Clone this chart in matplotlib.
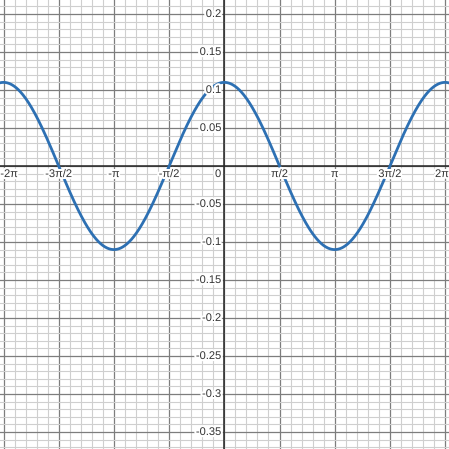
import numpy as np
import matplotlib.pyplot as plt
import matplotlib.patheffects as pe
from matplotlib.ticker import MultipleLocator

plt.rcParams["font.family"] = ["Liberation Sans", "DejaVu Sans"]

# Curve: y = a*cos(x)
amplitude = 0.11
x_ticks = [-2, -1.5, -1, -0.5, 0, 0.5, 1, 1.5, 2]  # multiples of pi
x_labels = ["-2π", "-3π/2", "-π", "-π/2", "0", "π/2", "π", "3π/2", "2π"]
y_ticks = [0.2, 0.15, 0.1, 0.05, -0.05, -0.1, -0.15, -0.2, -0.25, -0.3, -0.35]
y_labels = ["0.2", "0.15", "0.1", "0.05", "-0.05", "-0.1", "-0.15",
            "-0.2", "-0.25", "-0.3", "-0.35"]

xmin, xmax = -6.383, 6.394
ymin, ymax = -0.3724, 0.2184

fig = plt.figure(figsize=(4.49, 4.49), dpi=100)
ax = fig.add_axes([0, 0, 1, 1])
ax.set_xlim(xmin, xmax)
ax.set_ylim(ymin, ymax)

# grid
ax.xaxis.set_major_locator(MultipleLocator(np.pi / 2))
ax.xaxis.set_minor_locator(MultipleLocator(np.pi / 10))
ax.yaxis.set_major_locator(MultipleLocator(0.05))
ax.yaxis.set_minor_locator(MultipleLocator(0.01))
ax.grid(which="minor", color="#cfcfcf", linewidth=0.8)
ax.grid(which="major", color="#7d7d7d", linewidth=0.9)
ax.tick_params(which="both", length=0, labelbottom=False, labelleft=False)
for s in ax.spines.values():
    s.set_visible(False)
ax.set_axisbelow(True)

ax.axhline(0, color="#262626", linewidth=1.1, zorder=2)
ax.axvline(0, color="#262626", linewidth=1.1, zorder=2)

# curve
x = np.linspace(xmin, xmax, 800)
ax.plot(x, amplitude * np.cos(x), color="#2d70b3", linewidth=2.0, zorder=3)

halo = [pe.withStroke(linewidth=3, foreground="white")]
fs = 8

for t, lab in zip(x_ticks, x_labels):
    xv = t * np.pi
    if lab == "0":
        ax.text(-0.09, -0.004, lab, ha="right", va="top", fontsize=fs,
                color="#333333", path_effects=halo, zorder=4)
        continue
    xv = min(max(xv, xmin + 0.26), xmax - 0.2)
    ax.text(xv, -0.004, lab, ha="center", va="top", fontsize=fs,
            color="#333333", path_effects=halo, zorder=4)

for v, lab in zip(y_ticks, y_labels):
    ax.text(-0.09, v, lab, ha="right", va="center", fontsize=fs,
            color="#333333", path_effects=halo, zorder=4)

fig.savefig("out.png", dpi=100)
